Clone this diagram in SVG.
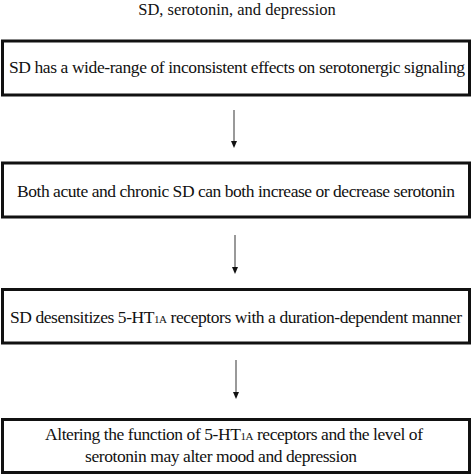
<svg xmlns="http://www.w3.org/2000/svg" width="474" height="474" viewBox="0 0 474 474">
<defs>
<style>
.box{fill:#fff;stroke:#111;stroke-width:3}
.t{font-family:'Liberation Serif','Times New Roman',Times,serif;font-size:17.5px;fill:#111}
.title{font-family:'Liberation Serif','Times New Roman',Times,serif;font-size:16.5px;fill:#111}
.sub{font-size:11px}
.conn{stroke:#555;stroke-width:1.2;fill:none}
.head{fill:#111}
</style>
</defs>
<rect width="474" height="474" fill="#fff"/>
<text class="title" x="237" y="15" text-anchor="middle">SD, serotonin, and depression</text>
<g id="connectors">
<line class="conn" x1="234" y1="110" x2="234" y2="141"/>
<path class="head" d="M231,141 L237,141 L234,148 Z"/>
<line class="conn" x1="235" y1="235" x2="235" y2="267"/>
<path class="head" d="M232,267 L238,267 L235,274 Z"/>
<line class="conn" x1="236" y1="360" x2="236" y2="392"/>
<path class="head" d="M233,392 L239,392 L236,399 Z"/>
</g>
<g id="node1">
<rect class="box" x="2.5" y="41" width="467" height="54"/>
<text class="t" x="9" y="73" textLength="456">SD has a wide-range of inconsistent effects on serotonergic signaling</text>
</g>
<g id="node2">
<rect class="box" x="2.5" y="163" width="467" height="54"/>
<text class="t" x="17" y="197" textLength="438">Both acute and chronic SD can both increase or decrease serotonin</text>
</g>
<g id="node3">
<rect class="box" x="2.5" y="289.5" width="467" height="53.5"/>
<text class="t" x="10" y="323" textLength="452">SD desensitizes 5-HT<tspan class="sub">1A</tspan> receptors with a duration-dependent manner</text>
</g>
<g id="node4">
<rect class="box" x="2.5" y="419.5" width="467" height="53"/>
<text class="t" x="45" y="440" textLength="378">Altering the function of 5-HT<tspan class="sub">1A</tspan> receptors and the level of</text>
<text class="t" x="85" y="462" textLength="272">serotonin may alter mood and depression</text>
</g>
</svg>
